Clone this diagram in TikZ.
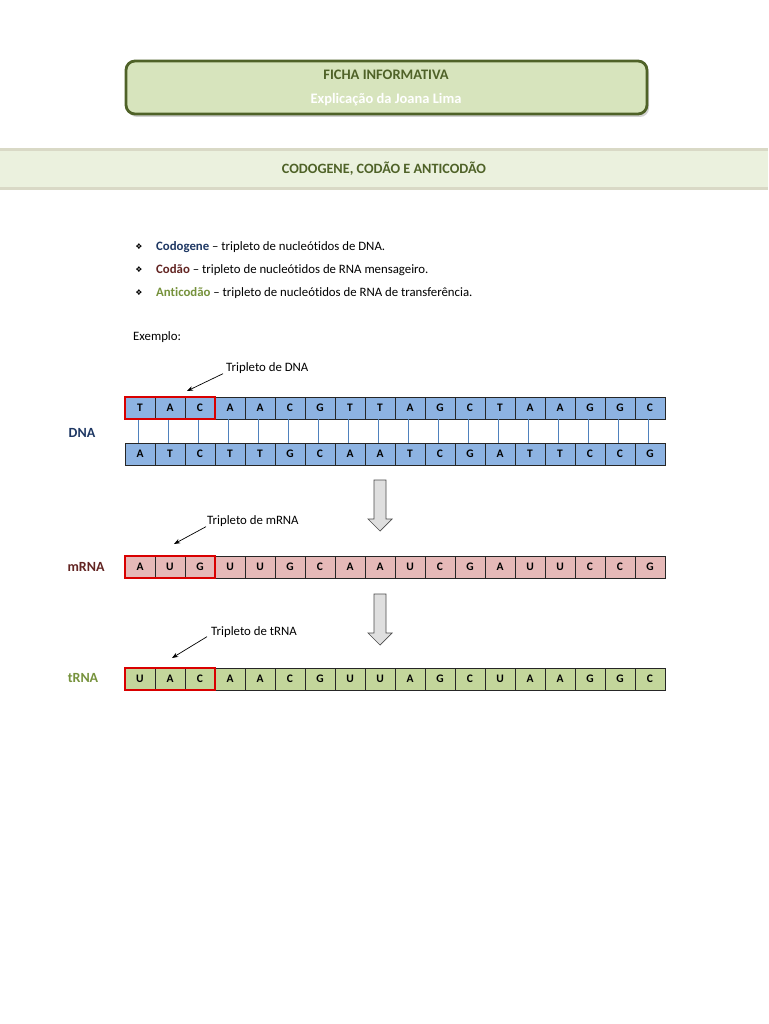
\documentclass[tikz,border=0pt]{standalone}
\usepackage{fontspec}
\setmainfont{Carlito}[Ligatures=NoCommon]
\newfontfamily\symfont{DejaVu Sans}
\usetikzlibrary{positioning,arrows.meta,shadows,fit}

\definecolor{olivedark}{HTML}{4F6228}
\definecolor{olive}{HTML}{76923C}
\definecolor{headfill}{HTML}{D7E4BD}
\definecolor{bannerfill}{HTML}{EBF1DE}
\definecolor{bannerline}{HTML}{D9D9C6}
\definecolor{navy}{HTML}{1F3864}
\definecolor{maroon}{HTML}{632523}
\definecolor{dnafill}{HTML}{8DB3E2}
\definecolor{mrnafill}{HTML}{E6B9B8}
\definecolor{trnafill}{HTML}{C3D69B}
\definecolor{bondcol}{HTML}{4F81BD}

\begin{document}
\begin{tikzpicture}[
  x=1pt, y=-1pt,
  >=Stealth,
  txt/.style={font=\fontsize{12.8}{15}\selectfont, inner sep=1pt},
  cell/.style={
    draw=black!85,
    line width=0.8pt,
    minimum width=30pt,
    minimum height=22pt,
    inner sep=0pt,
    outer sep=0pt,
    font=\bfseries\fontsize{11.5}{13}\selectfont
  },
  dnacell/.style={cell, fill=dnafill},
  mrnacell/.style={cell, fill=mrnafill},
  trnacell/.style={cell, fill=trnafill},
  triplet/.style={draw=red!85!black, line width=1.6pt, inner sep=0pt},
  bond/.style={draw=bondcol, line width=0.6pt},
  ptr/.style={->, line width=0.7pt},
  strand/.style={font=\bfseries\fontsize{14}{16}\selectfont},
  headtxt/.style={font=\bfseries\fontsize{14.5}{17}\selectfont},
  flow/.style={draw=gray!60!black, fill=gray!25, line width=0.7pt, line join=miter}
]
\useasboundingbox[fill=white] (0,0) rectangle (768,1024);

% header
\node[draw=olivedark, line width=2.8pt, rounded corners=9pt, fill=headfill,
  drop shadow={shadow xshift=2pt, shadow yshift=-3pt, opacity=0.35},
  minimum width=521pt, minimum height=53pt] (ficha) at (386.5,87.5) {};
\node[headtxt, text=olivedark] (fichatit) at (386,75) {FICHA INFORMATIVA};
\node[headtxt, text=white] (autor) at (386,100) {Explicação da Joana Lima};

% banner
\node[fill=bannerfill, minimum width=768pt, minimum height=38pt, inner sep=0pt,
  font=\bfseries\fontsize{14.2}{16}\selectfont, text=olivedark] (tema) at (384,169) {CODOGENE, CODÃO E ANTICODÃO};
\draw[bannerline, line width=3pt] (tema.north west) -- (tema.north east);
\draw[bannerline, line width=3pt] (tema.south west) -- (tema.south east);

% definitions
\node[font=\symfont\fontsize{8}{10}\selectfont] (bul1) at (139,247) {❖};
\node[font=\symfont\fontsize{8}{10}\selectfont] (bul2) at (139,270) {❖};
\node[font=\symfont\fontsize{8}{10}\selectfont] (bul3) at (139,293) {❖};
\node[txt, anchor=west] (def1) at (155,247) {\textbf{\textcolor{navy}{Codogene}} – tripleto de nucleótidos de DNA.};
\node[txt, anchor=west] (def2) at (155,270) {\textbf{\textcolor{maroon}{Codão}} – tripleto de nucleótidos de RNA mensageiro.};
\node[txt, anchor=west] (def3) at (155,293) {\textbf{\textcolor{olive}{Anticodão}} – tripleto de nucleótidos de RNA de transferência.};
\node[txt, anchor=west] (exemplo) at (132,337) {Exemplo:};

% DNA
\node[strand, text=navy] (lbldna) at (82,433) {DNA};
\foreach \b [count=\i] in {T,A,C,A,A,C,G,T,T,A,G,C,T,A,A,G,G,C}
  \node[dnacell] (top\i) at ({110+30*\i},408) {\b};
\foreach \b [count=\i] in {A,T,C,T,T,G,C,A,A,T,C,G,A,T,T,C,C,G}
  \node[dnacell] (bot\i) at ({110+30*\i},454) {\b};
\foreach \i in {1,...,18}
  \draw[bond] ([xshift=-1.5pt]top\i.south) -- ([xshift=-1.5pt]bot\i.north);
\node[triplet, fit=(top1)(top3)] (tripdna) {};
\node[txt, anchor=west] (notadna) at (225,368) {Tripleto de DNA};
\coordinate (tipdna) at (187,391);
\draw[ptr] ([xshift=-2pt,yshift=1pt]notadna.south west) -- (tipdna);

% transcription arrow
\coordinate (seta1) at (380,480);
\draw[flow] ([xshift=-6pt]seta1) -- ++(0,39) -- ++(-6,0) -- ++(12,12) -- ++(12,-12) -- ++(-6,0) -- ++(0,-39) -- cycle;

% mRNA
\node[strand, text=maroon] (lblmrna) at (86,567) {mRNA};
\foreach \b [count=\i] in {A,U,G,U,U,G,C,A,A,U,C,G,A,U,U,C,C,G}
  \node[mrnacell] (m\i) at ({110+30*\i},567) {\b};
\node[triplet, fit=(m1)(m3)] (tripmrna) {};
\node[txt, anchor=west] (notamrna) at (206,521) {Tripleto de mRNA};
\coordinate (tipmrna) at (174,544);
\draw[ptr] ([xshift=0pt,yshift=1pt]notamrna.south west) -- (tipmrna);

% translation arrow
\coordinate (seta2) at (380,594);
\draw[flow] ([xshift=-6pt]seta2) -- ++(0,39) -- ++(-6,0) -- ++(12,12) -- ++(12,-12) -- ++(-6,0) -- ++(0,-39) -- cycle;

% tRNA
\node[strand, text=olive] (lbltrna) at (83,678) {tRNA};
\foreach \b [count=\i] in {U,A,C,A,A,C,G,U,U,A,G,C,U,A,A,G,G,C}
  \node[trnacell] (t\i) at ({110+30*\i},679) {\b};
\node[triplet, fit=(t1)(t3)] (triptrna) {};
\node[txt, anchor=west] (notatrna) at (210,632) {Tripleto de tRNA};
\coordinate (tiptrna) at (172,658);
\draw[ptr] ([xshift=-3pt,yshift=2pt]notatrna.south west) -- (tiptrna);
\end{tikzpicture}
\end{document}
